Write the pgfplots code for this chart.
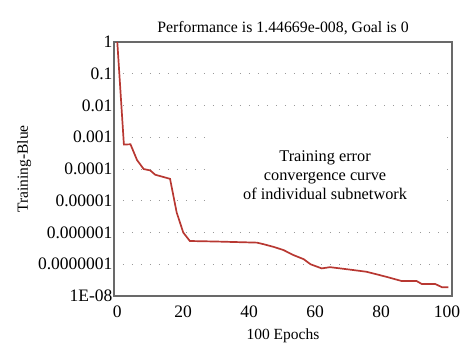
\documentclass[border=0pt]{standalone}
\usepackage{pgfplots}
\pgfplotsset{compat=1.18}
\usepackage{fontspec}
\setmainfont{Liberation Serif}
\definecolor{curve}{RGB}{184,56,50}
\definecolor{axgray}{RGB}{105,105,105}
\begin{document}
\begin{tikzpicture}[x=1pt,y=1pt]
\useasboundingbox (-114,-64) rectangle (360,296);
\begin{axis}[
  at={(0,0)}, anchor=south west,
  scale only axis, width=338pt, height=254pt,
  xmin=-1, xmax=101.5,
  ymode=log, ymin=1e-8, ymax=1,
  xtick={0,20,40,60,80,100},
  ytick={1,0.1,0.01,0.001,0.0001,0.00001,0.000001,0.0000001,0.00000001},
  yticklabels={1,0.1,0.01,0.001,0.0001,0.00001,0.000001,0.0000001,1E-08},
  /pgf/number format/assume math mode=true,
  tick style={draw=none},
  minor tick num=0,
  ymajorgrids,
  grid style={draw=gray!80, line width=0.8pt, dash pattern=on 0.8pt off 8.2pt},
  axis line style={draw=axgray, line width=1.4pt},
  ticklabel style={font=\fontsize{17.5}{20}\selectfont},
  yticklabel style={xshift=2pt},
  xticklabel style={yshift=-6pt},
  xlabel={100 Epochs}, ylabel={Training-Blue},
  label style={font=\fontsize{15.5}{18}\selectfont},
  xlabel style={yshift=-5pt},
  ylabel style={yshift=0pt},
  title={Performance is 1.44669e-008, Goal is 0},
  title style={font=\fontsize{15.8}{18}\selectfont, yshift=-2pt},
  clip=false,
]
\fill[white] (axis cs:27,2.5e-3) rectangle (axis cs:98,3.5e-6);
\addplot[curve, line width=1.7pt] coordinates {
(0,1) (2,5.9e-4) (4,6e-4) (6,1.9e-4) (8,1e-4) (10,9e-5) (11.5,6.6e-5)
(16,4.9e-5) (18,4.3e-6) (20,1e-6) (22,5.4e-7) (30,5.2e-7) (42.3,4.8e-7)
(44.3,4.3e-7) (47.5,3.5e-7) (50.4,2.8e-7) (53.4,1.95e-7) (56.5,1.45e-7) (58.6,1e-7)
(62,7.4e-8) (64.5,8.1e-8) (70,6.9e-8) (75.6,5.8e-8) (81.7,4e-8) (86.3,2.95e-8)
(90.8,2.95e-8) (92.3,2.4e-8) (96.4,2.4e-8) (98.4,1.9e-8) (100.4,1.9e-8)
};
\node[align=center, font=\fontsize{16.3}{19}\selectfont] at (axis cs:63,6.6e-5)
  {Training error\\convergence curve\\of individual subnetwork};
\end{axis}
\end{tikzpicture}
\end{document}
